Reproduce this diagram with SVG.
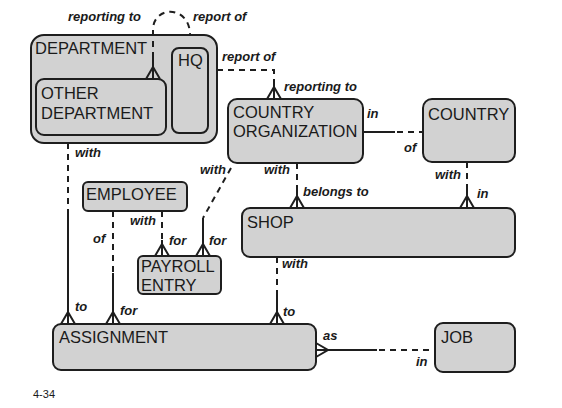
<svg xmlns="http://www.w3.org/2000/svg" width="562" height="408" viewBox="0 0 562 408">
<style>
.box{fill:#d2d2d2;stroke:#1e1e1e;stroke-width:2}
.nt{font-family:"Liberation Sans",Arial,sans-serif;font-size:16.5px;fill:#1a1a1a}
.lb{font-family:"Liberation Sans",Arial,sans-serif;font-size:13px;font-weight:bold;font-style:italic;fill:#1a1a1a}
.sl{fill:none;stroke:#1e1e1e;stroke-width:2}
.dl{fill:none;stroke:#1e1e1e;stroke-width:2;stroke-dasharray:6 5}
.cap{font-family:"Liberation Sans",Arial,sans-serif;font-size:11px;fill:#1a1a1a}
</style>
<rect width="562" height="408" fill="#ffffff"/>
<g id="department">
<rect class="box" x="31" y="35" width="186" height="108" rx="13"/>
<text class="nt" x="35" y="54">DEPARTMENT</text>
</g>
<g id="other-department">
<rect class="box" x="36" y="79" width="130" height="56" rx="8"/>
<text class="nt" x="41" y="99">OTHER</text>
<text class="nt" x="41" y="119">DEPARTMENT</text>
</g>
<g id="hq">
<rect class="box" x="172" y="48" width="36" height="85" rx="7"/>
<text class="nt" x="178" y="66">HQ</text>
</g>
<g id="country-organization">
<rect class="box" x="228" y="99" width="135" height="64" rx="9"/>
<text class="nt" x="233" y="118">COUNTRY</text>
<text class="nt" x="233" y="137">ORGANIZATION</text>
</g>
<g id="country">
<rect class="box" x="423" y="99" width="92" height="63" rx="9"/>
<text class="nt" x="428" y="120">COUNTRY</text>
</g>
<g id="employee">
<rect class="box" x="83" y="182" width="104" height="29" rx="5"/>
<text class="nt" x="86" y="200">EMPLOYEE</text>
</g>
<g id="shop">
<rect class="box" x="242" y="208" width="273" height="49" rx="8"/>
<text class="nt" x="247" y="228">SHOP</text>
</g>
<g id="payroll-entry">
<rect class="box" x="138" y="256" width="83" height="38" rx="5"/>
<text class="nt" x="141" y="272">PAYROLL</text>
<text class="nt" x="141" y="291">ENTRY</text>
</g>
<g id="assignment">
<rect class="box" x="53" y="324" width="263" height="46" rx="8"/>
<text class="nt" x="59" y="343">ASSIGNMENT</text>
</g>
<g id="job">
<rect class="box" x="435" y="323" width="80" height="49" rx="8"/>
<text class="nt" x="441" y="343">JOB</text>
</g>
<g id="connectors">
<path class="dl" d="M153,58 L153,30 C153,5 190,5 190,35"/>
<path class="sl" d="M153,58 L153,79 M146,79 L153,67 L160,79"/>
<path class="dl" d="M217,70 L274,70 L274,84"/>
<path class="sl" d="M274,84 L274,99 M267,99 L274,87 L281,99"/>
<path class="sl" d="M363,132 L395,132"/>
<path class="dl" d="M397,132 L423,132"/>
<path class="dl" d="M297,163 L297,185"/>
<path class="sl" d="M297,185 L297,208 M290,208 L297,196 L304,208"/>
<path class="dl" d="M467,162 L467,185"/>
<path class="sl" d="M467,185 L467,208 M460,208 L467,196 L474,208"/>
<path class="dl" d="M231,168 L203,218"/>
<path class="sl" d="M203,218 L203,256 M196,256 L203,244 L210,256"/>
<path class="dl" d="M162,211 L162,240"/>
<path class="sl" d="M162,240 L162,256 M155,256 L162,244 L169,256"/>
<path class="dl" d="M68,143 L68,215"/>
<path class="sl" d="M68,215 L68,324 M61,324 L68,312 L75,324"/>
<path class="dl" d="M113,211 L113,273"/>
<path class="sl" d="M113,273 L113,324 M106,324 L113,312 L120,324"/>
<path class="dl" d="M277,257 L277,295"/>
<path class="sl" d="M277,295 L277,324 M270,324 L277,312 L284,324"/>
<path class="sl" d="M316,350 L377,350 M316,343 L328,350 L316,357"/>
<path class="dl" d="M379,350 L435,350"/>
</g>
<g id="labels">
<text class="lb" x="68" y="21">reporting to</text>
<text class="lb" x="193" y="21">report of</text>
<text class="lb" x="222" y="61">report of</text>
<text class="lb" x="284" y="91">reporting to</text>
<text class="lb" x="367" y="118">in</text>
<text class="lb" x="404" y="152">of</text>
<text class="lb" x="75" y="157">with</text>
<text class="lb" x="200" y="174">with</text>
<text class="lb" x="264" y="174">with</text>
<text class="lb" x="303" y="196">belongs to</text>
<text class="lb" x="435" y="179">with</text>
<text class="lb" x="477" y="198">in</text>
<text class="lb" x="130" y="225">with</text>
<text class="lb" x="93" y="243">of</text>
<text class="lb" x="169" y="245">for</text>
<text class="lb" x="209" y="245">for</text>
<text class="lb" x="282" y="268">with</text>
<text class="lb" x="75" y="311">to</text>
<text class="lb" x="120" y="315">for</text>
<text class="lb" x="283" y="316">to</text>
<text class="lb" x="323" y="340">as</text>
<text class="lb" x="416" y="366">in</text>
</g>
<text class="cap" x="33" y="398">4-34</text>
</svg>
